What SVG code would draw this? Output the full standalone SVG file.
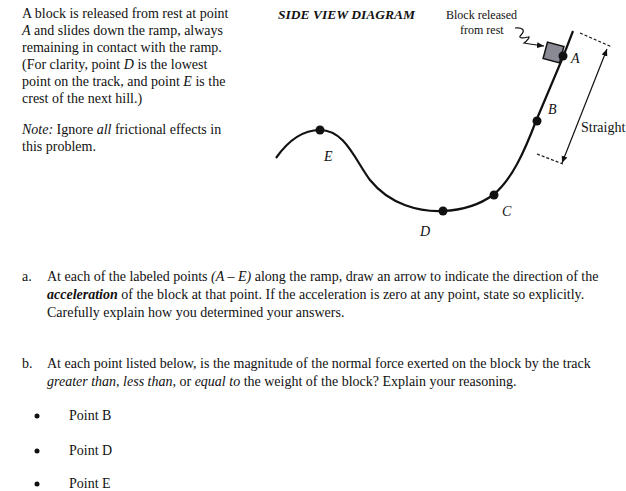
<svg xmlns="http://www.w3.org/2000/svg" width="626" height="491" viewBox="0 0 626 491">
<style>
text{font-family:"Liberation Serif",serif;font-size:14px;fill:#111}
.it{font-style:italic}
.trk{fill:none;stroke:#111;stroke-width:2.2}
.dot{fill:#111}
.dash{stroke:#111;stroke-width:1.2;stroke-dasharray:3,2}
</style>
<defs>
<marker id="ah" markerWidth="8" markerHeight="8" refX="7" refY="4" orient="auto-start-reverse" markerUnits="userSpaceOnUse"><path d="M0,1 L7,4 L0,7 Z" fill="#111"/></marker>
</defs>
<rect width="626" height="491" fill="#fff"/>
<g id="problem-text">
<text x="22" y="18">A block is released from rest at point</text>
<text x="22" y="35"><tspan class="it">A</tspan> and slides down the ramp, always</text>
<text x="22" y="52">remaining in contact with the ramp.</text>
<text x="22" y="69">(For clarity, point <tspan class="it">D</tspan> is the lowest</text>
<text x="22" y="86">point on the track, and point <tspan class="it">E</tspan> is the</text>
<text x="22" y="103">crest of the next hill.)</text>
<text x="22" y="134"><tspan class="it">Note:</tspan>  Ignore <tspan class="it">all</tspan> frictional effects in</text>
<text x="22" y="151">this problem.</text>
</g>
<g id="title"><text x="278" y="19" class="it" font-weight="bold" style="font-size:13.5px">SIDE VIEW DIAGRAM</text></g>
<g id="release-label">
<text x="446" y="19" style="font-size:12px">Block released</text>
<text x="460" y="34" style="font-size:12px">from rest</text>
</g>
<g id="track">
<path class="trk" d="M276,158 C290,138 305,130 320,130 C345,130 355,160 370,180 C390,205 420,212 443,211 C465,210 482,203 493,195 C512,180 525,150 536,121 L563,57 L573,31"/>
</g>
<g id="block"><rect x="545" y="44" width="17" height="17" fill="#8a8a95" stroke="#111" stroke-width="1.5" transform="rotate(15 553.5 52.5)"/></g>
<g id="point-A"><circle class="dot" cx="563" cy="56" r="4.5"/><text x="571" y="63" class="it">A</text></g>
<g id="point-B"><circle class="dot" cx="537" cy="121" r="4.5"/><text x="548" y="114" class="it">B</text></g>
<g id="point-C"><circle class="dot" cx="494" cy="195" r="4.5"/><text x="502" y="216" class="it">C</text></g>
<g id="point-D"><circle class="dot" cx="443" cy="211" r="4.5"/><text x="420" y="236" class="it">D</text></g>
<g id="point-E"><circle class="dot" cx="320" cy="130" r="4.5"/><text x="324" y="161" class="it">E</text></g>
<g id="connectors">
<path d="M515,28 C522,27 526,30 521,35 C517,39 524,38 528,37 C531,36 527,41 524,43 C530,44 536,45 544,46" fill="none" stroke="#111" stroke-width="1.2" marker-end="url(#ah)"/>
<line class="dash" x1="580" y1="33" x2="612" y2="47"/>
<line class="dash" x1="537" y1="154" x2="563" y2="164"/>
<line x1="607" y1="49" x2="562" y2="163" stroke="#111" stroke-width="1.2" marker-start="url(#ah)" marker-end="url(#ah)"/>
</g>
<g id="straight-label"><text x="581" y="132">Straight</text></g>
<g id="questions">
<text x="22" y="281">a.</text>
<text x="47" y="281">At each of the labeled points <tspan class="it">(A – E)</tspan> along the ramp, draw an arrow to indicate the direction of the</text>
<text x="47" y="299"><tspan class="it" font-weight="bold">acceleration</tspan> of the block at that point.  If the acceleration is zero at any point, state so explicitly.</text>
<text x="47" y="317">Carefully explain how you determined your answers.</text>
<text x="22" y="368">b.</text>
<text x="47" y="368">At each point listed below, is the magnitude of the normal force exerted on the block by the track</text>
<text x="47" y="386"><tspan class="it">greater than, less than,</tspan> or <tspan class="it">equal to</tspan> the weight of the block? Explain your reasoning.</text>
<circle cx="37" cy="416" r="2.5" class="dot"/><text x="69" y="420">Point B</text>
<circle cx="37" cy="451" r="2.5" class="dot"/><text x="69" y="455">Point D</text>
<circle cx="37" cy="484" r="2.5" class="dot"/><text x="69" y="488">Point E</text>
</g>
</svg>
